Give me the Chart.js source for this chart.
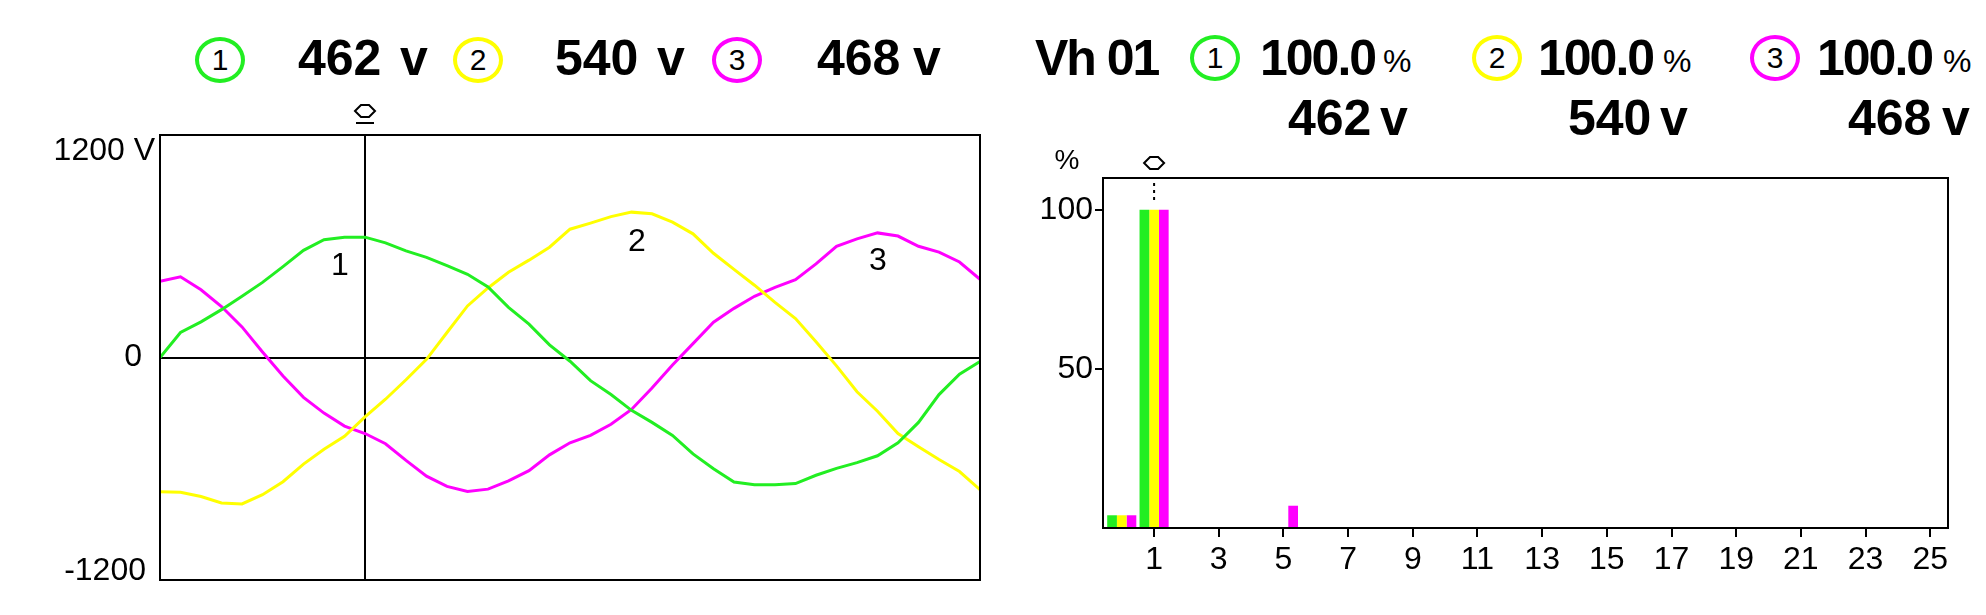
<!DOCTYPE html>
<html>
<head>
<meta charset="utf-8">
<script src="https://cdn.jsdelivr.net/npm/chart.js@4.4.0/dist/chart.umd.min.js"></script>
<style>
  body { margin: 0; background: #fff; width: 1986px; height: 615px; overflow: hidden; position: relative;
         font-family: 'Liberation Sans', Arial, sans-serif; color: #000; }
  .t { position: absolute; font-weight: bold; font-size: 50px; line-height: 50px; white-space: nowrap; }
  .n { letter-spacing: -2px; }
  .pct { position: absolute; font-size: 32px; line-height: 32px; }
  .ring { position: absolute; width: 42px; height: 38px; border: 4px solid; border-radius: 50%;
          font-size: 30px; line-height: 38px; text-align: center; }
  .g { border-color: #22ee22; }
  .y { border-color: #ffff00; }
  .m { border-color: #ff00ff; }
  #waveBox { position: absolute; left: 0; top: 100px; width: 1000px; height: 500px; }
  #harmBox { position: absolute; left: 1000px; top: 130px; width: 986px; height: 470px; }
</style>
</head>
<body>
<!-- left header -->
<div class="ring g" style="left:195px;top:37px">1</div>
<div class="t" style="left:298px;top:33px">462</div><div class="t" style="left:400px;top:33px">v</div>
<div class="ring y" style="left:453px;top:37px">2</div>
<div class="t" style="left:555px;top:33px">540</div><div class="t" style="left:657px;top:33px">v</div>
<div class="ring m" style="left:712px;top:37px">3</div>
<div class="t" style="left:817px;top:33px">468</div><div class="t" style="left:913px;top:33px">v</div>

<!-- right header -->
<div class="t n" style="left:1035px;top:33px">Vh 01</div>
<div class="ring g" style="left:1190px;top:35px">1</div>
<div class="t n" style="left:1260px;top:33px">100.0</div><div class="pct" style="left:1383px;top:45px">%</div>
<div class="ring y" style="left:1472px;top:35px">2</div>
<div class="t n" style="left:1538px;top:33px">100.0</div><div class="pct" style="left:1663px;top:45px">%</div>
<div class="ring m" style="left:1750px;top:35px">3</div>
<div class="t n" style="left:1817px;top:33px">100.0</div><div class="pct" style="left:1943px;top:45px">%</div>
<div class="t" style="left:1288px;top:93px">462</div><div class="t" style="left:1380px;top:93px">v</div>
<div class="t" style="left:1568px;top:93px">540</div><div class="t" style="left:1660px;top:93px">v</div>
<div class="t" style="left:1848px;top:93px">468</div><div class="t" style="left:1942px;top:93px">v</div>

<div id="waveBox"><canvas id="wave" width="1000" height="500"></canvas></div>
<div id="harmBox"><canvas id="harm" width="986" height="470"></canvas></div>

<script>
// waveform, one 50 Hz cycle (ms)
const timeMs = [0, 0.5, 1, 1.5, 2, 2.5, 3, 3.5, 4, 4.5, 5, 5.5, 6, 6.5, 7, 7.5, 8, 8.5, 9, 9.5,
                10, 10.5, 11, 11.5, 12, 12.5, 13, 13.5, 14, 14.5, 15, 15.5, 16, 16.5, 17, 17.5, 18, 18.5, 19, 19.5, 20];
const phase1Volts = [0, 135, 192, 258, 330, 405, 490, 578, 635, 649, 649, 618, 575, 540, 495, 449, 380, 270, 180, 68,
                     -20, -125, -200, -285, -350, -420, -520, -600, -672, -686, -686, -680, -635, -598, -567, -530, -460, -350, -200, -90, -22];
const phase2Volts = [-724, -727, -750, -785, -790, -740, -670, -575, -495, -425, -320, -225, -120, -10, 135, 278, 375, 460, 525, 595,
                     692, 725, 760, 784, 775, 730, 667, 562, 475, 390, 297, 210, 85, -45, -185, -290, -410, -481, -550, -615, -713];
const phase3Volts = [411, 435, 365, 275, 165, 30, -100, -215, -300, -370, -410, -465, -555, -640, -695, -722, -710, -665, -610, -525,
                     -460, -420, -360, -280, -165, -40, 75, 190, 265, 330, 378, 420, 505, 600, 640, 672, 655, 600, 568, 515, 422];
const voltTicks = [-1200, 0, 1200];
const voltTickLabels = ['-1200', '0', '1200 V'];
const timeGrid = [0, 5, 20];
const cursorMs = 5;
const curveTags = [
  { text: '1', t: 4.39, v: 492 },
  { text: '2', t: 11.63, v: 622 },
  { text: '3', t: 17.51, v: 519 }
];

// harmonic spectrum (% of fundamental)
const harmonicOrders = [0, 1, 2, 3, 4, 5, 6, 7, 8, 9, 10, 11, 12, 13, 14, 15, 16, 17, 18, 19, 20, 21, 22, 23, 24, 25];
const phase1Pct = [4, 100, 0, 0, 0, 0, 0, 0, 0, 0, 0, 0, 0, 0, 0, 0, 0, 0, 0, 0, 0, 0, 0, 0, 0, 0];
const phase2Pct = [4, 100, 0, 0, 0, 0, 0, 0, 0, 0, 0, 0, 0, 0, 0, 0, 0, 0, 0, 0, 0, 0, 0, 0, 0, 0];
const phase3Pct = [4, 100, 0, 0, 0, 7, 0, 0, 0, 0, 0, 0, 0, 0, 0, 0, 0, 0, 0, 0, 0, 0, 0, 0, 0, 0];
const harmTicks = [1, 3, 5, 7, 9, 11, 13, 15, 17, 19, 21, 23, 25];
const pctTicks = [50, 100];
const cursorOrder = 1;

const GREEN = '#22ee22', YELLOW = '#ffff00', MAGENTA = '#ff00ff';
const labelFont = { family: 'Liberation Sans', size: 32 };
// gap between each volt label and the frame (bottom, zero, top)
const voltLabelGap = [14, 18, 5];

Chart.defaults.font.family = 'Liberation Sans';
Chart.defaults.color = '#000';

const frame = {
  id: 'frame',
  afterDraw(chart) {
    const { ctx, chartArea: a } = chart;
    ctx.save();
    ctx.strokeStyle = '#000';
    ctx.lineWidth = 2;
    ctx.strokeRect(a.left, a.top, a.right - a.left, a.bottom - a.top);
    ctx.restore();
  }
};

function cursorMark(ctx, cx, cy) {
  ctx.beginPath();
  ctx.moveTo(cx - 10, cy);
  ctx.lineTo(cx - 4, cy - 6);
  ctx.lineTo(cx + 4, cy - 6);
  ctx.lineTo(cx + 10, cy);
  ctx.lineTo(cx + 4, cy + 6);
  ctx.lineTo(cx - 4, cy + 6);
  ctx.closePath();
  ctx.stroke();
}

const waveText = {
  id: 'waveText',
  afterDraw(chart) {
    const { ctx, chartArea: a, scales: { x, y } } = chart;
    ctx.save();
    ctx.fillStyle = '#000';
    ctx.strokeStyle = '#000';
    ctx.font = '32px "Liberation Sans"';
    ctx.textAlign = 'right';
    voltTicks.forEach((v, i) => {
      ctx.textBaseline = v > 0 ? 'top' : v < 0 ? 'alphabetic' : 'middle';
      ctx.fillText(voltTickLabels[i], a.left - voltLabelGap[i], y.getPixelForValue(v));
    });
    ctx.textAlign = 'center';
    ctx.textBaseline = 'middle';
    curveTags.forEach(c => ctx.fillText(c.text, x.getPixelForValue(c.t), y.getPixelForValue(c.v)));
    const cx = x.getPixelForValue(cursorMs);
    ctx.lineWidth = 2;
    cursorMark(ctx, cx, a.top - 24);
    ctx.fillRect(cx - 9, a.top - 13, 18, 2);
    ctx.restore();
  }
};

const harmText = {
  id: 'harmText',
  afterDraw(chart) {
    const { ctx, chartArea: a, scales: { x } } = chart;
    const cx = x.getPixelForValue(cursorOrder);
    ctx.save();
    ctx.fillStyle = '#000';
    ctx.strokeStyle = '#000';
    ctx.font = '28px "Liberation Sans"';
    ctx.textAlign = 'center';
    ctx.textBaseline = 'middle';
    ctx.fillText('%', a.left - 36, a.top - 17);
    ctx.lineWidth = 2;
    cursorMark(ctx, cx, a.top - 15);
    ctx.setLineDash([3, 4]);
    ctx.beginPath();
    ctx.moveTo(cx, a.top + 5);
    ctx.lineTo(cx, a.top + 26);
    ctx.stroke();
    ctx.restore();
  }
};

function waveSet(values, color) {
  return {
    data: timeMs.map((t, i) => ({ x: t, y: values[i] })),
    borderColor: color, borderWidth: 3, pointRadius: 0, tension: 0, fill: false
  };
}

new Chart(document.getElementById('wave'), {
  type: 'line',
  data: { datasets: [waveSet(phase1Volts, GREEN), waveSet(phase2Volts, YELLOW), waveSet(phase3Volts, MAGENTA)] },
  options: {
    responsive: false,
    animation: false,
    layout: { padding: { left: 0, top: 35, right: 20, bottom: 20 } },
    plugins: { legend: { display: false }, tooltip: { enabled: false } },
    scales: {
      x: {
        type: 'linear', min: 0, max: 20,
        afterBuildTicks: s => { s.ticks = timeGrid.map(v => ({ value: v })); },
        afterFit: s => { s.height = 0; },
        ticks: { display: false },
        grid: { color: '#000', lineWidth: 2, drawTicks: false },
        border: { display: false }
      },
      y: {
        min: -1200, max: 1200,
        afterBuildTicks: s => { s.ticks = voltTicks.map(v => ({ value: v })); },
        afterFit: s => { s.width = 160; },
        ticks: { display: false },
        grid: { color: '#000', lineWidth: 2, drawTicks: false },
        border: { display: false }
      }
    }
  },
  plugins: [frame, waveText]
});

function harmSet(values, color) {
  return {
    data: harmonicOrders.map((h, i) => ({ x: h, y: values[i] })),
    backgroundColor: color, borderWidth: 0,
    barPercentage: 1, categoryPercentage: 0.9
  };
}

new Chart(document.getElementById('harm'), {
  type: 'bar',
  data: { datasets: [harmSet(phase1Pct, GREEN), harmSet(phase2Pct, YELLOW), harmSet(phase3Pct, MAGENTA)] },
  options: {
    responsive: false,
    animation: false,
    layout: { padding: { left: 0, top: 48, right: 38, bottom: 0 } },
    plugins: { legend: { display: false }, tooltip: { enabled: false } },
    scales: {
      x: {
        type: 'linear', min: -0.58, max: 25.55, offset: false,
        afterBuildTicks: s => { s.ticks = harmTicks.map(v => ({ value: v })); },
        afterFit: s => { s.height = 72; },
        ticks: { font: labelFont, color: '#000', padding: 4, maxRotation: 0, autoSkip: false },
        grid: { offset: false, drawOnChartArea: false, tickLength: 9, color: '#000', lineWidth: 2 },
        border: { color: '#000', width: 2 }
      },
      y: {
        min: 0, max: 110,
        afterBuildTicks: s => { s.ticks = pctTicks.map(v => ({ value: v })); },
        afterFit: s => { s.width = 103; },
        ticks: { font: labelFont, color: '#000', padding: 2 },
        grid: { drawOnChartArea: false, tickLength: 8, color: '#000', lineWidth: 2 },
        border: { color: '#000', width: 2 }
      }
    }
  },
  plugins: [frame, harmText]
});
</script>
</body>
</html>
